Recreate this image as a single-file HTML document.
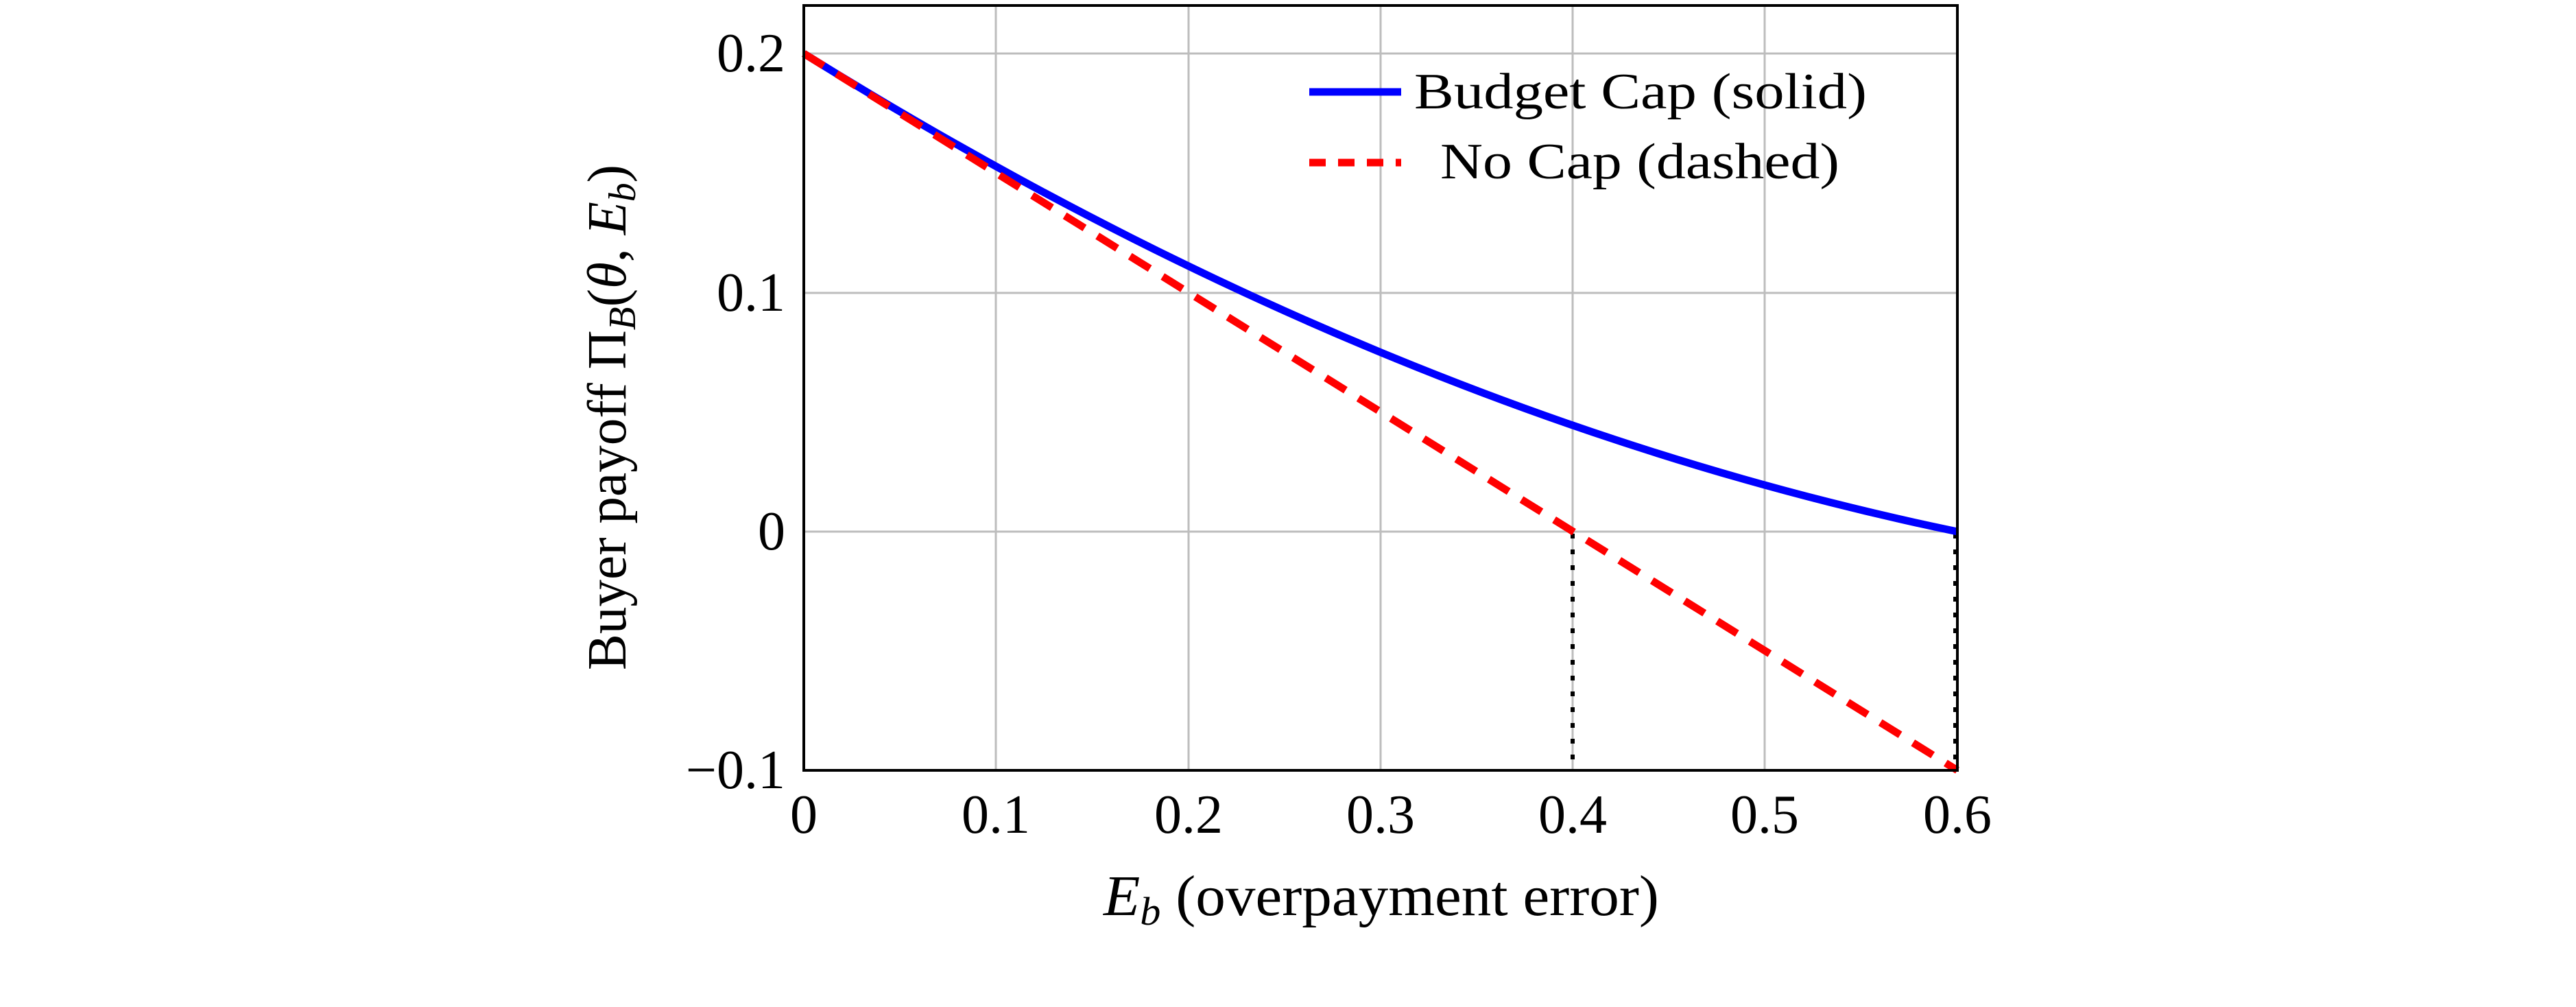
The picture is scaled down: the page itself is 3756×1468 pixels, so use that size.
<!DOCTYPE html>
<html><head><meta charset="utf-8"><style>
html,body{margin:0;padding:0;background:#fff;}
svg{display:block;}
text{font-family:"Liberation Serif",serif;fill:#000;}
</style></head><body>
<svg width="3756" height="1468" viewBox="0 0 3756 1468" xmlns="http://www.w3.org/2000/svg">
<rect width="3756" height="1468" fill="#fff"/>
<g stroke="#bdbdbd" stroke-width="3">
<line x1="1452" y1="8" x2="1452" y2="1123"/>
<line x1="1733" y1="8" x2="1733" y2="1123"/>
<line x1="2013" y1="8" x2="2013" y2="1123"/>
<line x1="2293" y1="8" x2="2293" y2="1123"/>
<line x1="2573" y1="8" x2="2573" y2="1123"/>
<line x1="1172" y1="78" x2="2854" y2="78"/>
<line x1="1172" y1="427" x2="2854" y2="427"/>
<line x1="1172" y1="775" x2="2854" y2="775"/>
</g>
<g stroke="#000" stroke-width="6" stroke-dasharray="7,16">
<line x1="2293" y1="778" x2="2293" y2="1123"/>
<line x1="2851" y1="778" x2="2851" y2="1123"/>
</g>
<path d="M1172,78 Q2013,600.75 2854,775" fill="none" stroke="#0000ff" stroke-width="11"/>
<line x1="1172" y1="78" x2="2854" y2="1123" stroke="#ff0000" stroke-width="11" stroke-dasharray="34,22"/>
<rect x="1172" y="8" width="1682" height="1115" fill="none" stroke="#000" stroke-width="4"/>
<line x1="1909" y1="134" x2="2043" y2="134" stroke="#0000ff" stroke-width="11"/>
<line x1="1909" y1="237" x2="2043" y2="237" stroke="#ff0000" stroke-width="11" stroke-dasharray="24,18"/>
<text x="2062" y="158" font-size="74" textLength="660" lengthAdjust="spacingAndGlyphs">Budget Cap (solid)</text>
<text x="2100" y="260" font-size="74" textLength="582" lengthAdjust="spacingAndGlyphs">No Cap (dashed)</text>
<g font-size="80" text-anchor="end">
<text x="1145" y="104">0.2</text>
<text x="1145" y="453">0.1</text>
<text x="1145" y="801">0</text>
<text x="1145" y="1149">−0.1</text>
</g>
<g font-size="80" text-anchor="middle">
<text x="1172" y="1214">0</text>
<text x="1452" y="1214">0.1</text>
<text x="1733" y="1214">0.2</text>
<text x="2013" y="1214">0.3</text>
<text x="2293" y="1214">0.4</text>
<text x="2573" y="1214">0.5</text>
<text x="2854" y="1214">0.6</text>
</g>
<text x="1609" y="1334" font-size="84" textLength="810" lengthAdjust="spacingAndGlyphs"><tspan font-style="italic">E</tspan><tspan font-style="italic" font-size="58" dy="14">b</tspan><tspan dy="-14"> (overpayment error)</tspan></text>
<text transform="translate(912,977) rotate(-90)" font-size="80" textLength="737" lengthAdjust="spacingAndGlyphs">Buyer payoff Π<tspan font-style="italic" font-size="56" dy="14">B</tspan><tspan dy="-14">(</tspan><tspan font-style="italic">θ</tspan><tspan>, </tspan><tspan font-style="italic">E</tspan><tspan font-style="italic" font-size="56" dy="14">b</tspan><tspan dy="-14">)</tspan></text>
</svg>
</body></html>
